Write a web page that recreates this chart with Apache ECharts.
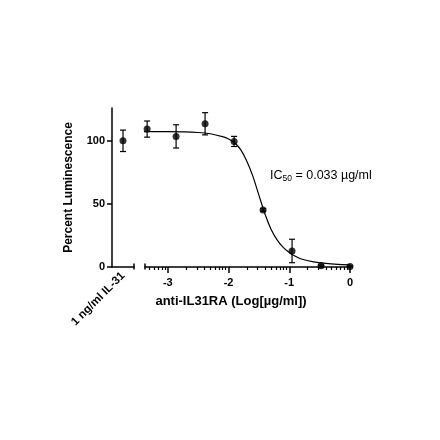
<!DOCTYPE html>
<html>
<head>
<meta charset="utf-8">
<script src="https://cdn.jsdelivr.net/npm/echarts@6/dist/echarts.min.js"></script>
<style>html,body{margin:0;padding:0;background:#fff}#c{width:440px;height:440px}</style>
</head>
<body>
<div id="c"></div>
<script>
// ---- data ----
const controlLabel = ['1 ng/ml IL-31'];
const controlMean = [100];
const controlSd = [8.5];

const concLog = [-3.340, -2.863, -2.386, -1.908, -1.431, -0.954, -0.477, 0];
const meanPct = [109.3, 103.5, 113.5, 99.5, 45.2, 12.7, 1.0, 0.4];
const sdPct = [6.4, 9.2, 8.8, 4.0, 1.0, 9.3, 0.6, 0.5];

// fitted curve
const curveLog = [-3.71, -3.0, -2.5, -2.3, -2.1, -2.0, -1.9, -1.8, -1.7, -1.6, -1.5, -1.4, -1.3, -1.2, -1.1, -1.0, -0.9, -0.8, -0.6, -0.4, -0.2, 0];
const curveVal = [107.3, 107.2, 106.6, 105.6, 103.3, 101.5, 98.5, 93, 84, 72, 57, 42, 30, 21.5, 15.5, 11.5, 8.5, 6.3, 4.0, 2.8, 2.1, 1.7];

const yTicks = [0, 50, 100];
const xMajor = [-3, -2, -1, 0];
const minorMult = [2, 3, 4, 5, 6, 7, 8, 9];
const xTitle = 'anti-IL31RA (Log[µg/ml])';
const yTitle = 'Percent Luminescence';

// ---- layout ----
const FONT = 'Liberation Sans, Arial, sans-serif';
const TOP = 108, BOTTOM = 173;
const G0_LEFT = 112, G0_RIGHT = 306;   // control segment: 112..134
const G1_LEFT = 145, G1_RIGHT = 90;    // main segment: 145..350
const AXIS_Y = 440 - BOTTOM;
const X_MIN = -3.375, X_MAX = 0, Y_MAX = 126;

const minorTicks = [];
for (let d = -4; d <= -1; d++) {
  minorMult.forEach(k => {
    const v = d + Math.log10(k);
    if (v > X_MIN && v < X_MAX) minorTicks.push(v);
  });
}

const mainPts = concLog.map((x, i) => [x, meanPct[i]]);
const mainErr = concLog.map((x, i) => [x, meanPct[i] - sdPct[i], meanPct[i] + sdPct[i]]);
const ctrlPts = controlMean.map((m, i) => [i, m]);
const ctrlErr = controlMean.map((m, i) => [i, m - controlSd[i], m + controlSd[i]]);
const curve = curveLog.map((x, i) => [x, curveVal[i]]);

function errRender(params, api) {
  const x = api.value(0);
  const lo = api.coord([x, api.value(1)]);
  const hi = api.coord([x, api.value(2)]);
  const w = 3;
  const st = { stroke: '#000', lineWidth: 1.2 };
  return {
    type: 'group',
    children: [
      { type: 'line', shape: { x1: lo[0], y1: lo[1], x2: hi[0], y2: hi[1] }, style: st },
      { type: 'line', shape: { x1: lo[0] - w, y1: lo[1], x2: lo[0] + w, y2: lo[1] }, style: st },
      { type: 'line', shape: { x1: hi[0] - w, y1: hi[1], x2: hi[0] + w, y2: hi[1] }, style: st }
    ]
  };
}

const axisLineStyle = { color: '#000', width: 1.5 };
const capStyle = { stroke: '#000', lineWidth: 1.5 };

const option = {
  backgroundColor: '#fff',
  animation: false,
  textStyle: { fontFamily: FONT },
  grid: [
    { left: G0_LEFT, right: G0_RIGHT, top: TOP, bottom: BOTTOM },
    { left: G1_LEFT, right: G1_RIGHT, top: TOP, bottom: BOTTOM }
  ],
  xAxis: [
    {
      gridIndex: 0, type: 'category', data: controlLabel, boundaryGap: true, position: 'bottom',
      axisLine: { lineStyle: axisLineStyle },
      axisTick: { alignWithLabel: true, length: 6, lineStyle: { color: '#000', width: 1.5 } },
      axisLabel: { rotate: 45, margin: 7, color: '#000', fontSize: 11.5, fontWeight: 'bold', fontFamily: FONT },
      splitLine: { show: false }
    },
    {
      gridIndex: 1, type: 'value', min: X_MIN, max: X_MAX, position: 'bottom',
      axisLine: { lineStyle: axisLineStyle },
      axisTick: { customValues: xMajor, length: 6, lineStyle: { color: '#000', width: 1.5 } },
      axisLabel: { customValues: xMajor, margin: 10, color: '#000', fontSize: 11, fontWeight: 'bold', fontFamily: FONT,
        formatter: v => String(Math.round(v)) },
      splitLine: { show: false }
    },
    {
      gridIndex: 1, type: 'value', min: X_MIN, max: X_MAX, position: 'bottom', offset: 0,
      axisLine: { show: false },
      axisTick: { customValues: minorTicks, length: 3, lineStyle: { color: '#000', width: 1.2 } },
      axisLabel: { show: false },
      splitLine: { show: false }
    }
  ],
  yAxis: [
    {
      gridIndex: 0, type: 'value', min: 0, max: Y_MAX,
      name: yTitle, nameLocation: 'middle', nameGap: 37,
      nameTextStyle: { color: '#000', fontSize: 12, fontWeight: 'bold', fontFamily: FONT },
      axisLine: { show: true, lineStyle: axisLineStyle },
      axisTick: { show: true, customValues: yTicks, length: 5, lineStyle: { color: '#000', width: 1.5 } },
      axisLabel: { customValues: yTicks, margin: 7, color: '#000', fontSize: 11, fontWeight: 'bold', fontFamily: FONT },
      splitLine: { show: false }
    },
    {
      gridIndex: 1, type: 'value', min: 0, max: Y_MAX, position: 'left',
      axisLine: { show: false }, axisTick: { show: false }, axisLabel: { show: false },
      splitLine: { show: false }
    }
  ],
  series: [
    {
      type: 'line', xAxisIndex: 1, yAxisIndex: 1, data: curve, smooth: 0.3,
      showSymbol: false, clip: false, lineStyle: { color: '#000', width: 1.2 }, z: 2
    },
    {
      type: 'custom', xAxisIndex: 1, yAxisIndex: 1, data: mainErr, renderItem: errRender, clip: false, z: 3
    },
    {
      type: 'scatter', xAxisIndex: 1, yAxisIndex: 1, data: mainPts, symbol: 'circle', symbolSize: 7,
      itemStyle: { color: '#000' }, clip: false, z: 4
    },
    {
      type: 'custom', xAxisIndex: 0, yAxisIndex: 0, data: ctrlErr, renderItem: errRender, clip: false, z: 3
    },
    {
      type: 'scatter', xAxisIndex: 0, yAxisIndex: 0, data: ctrlPts, symbol: 'circle', symbolSize: 7,
      itemStyle: { color: '#000' }, clip: false, z: 4
    }
  ],
  graphic: [
    // axis-break caps
    { type: 'line', shape: { x1: 440 - G0_RIGHT, y1: AXIS_Y - 3.5, x2: 440 - G0_RIGHT, y2: AXIS_Y + 2.5 }, style: capStyle },
    { type: 'line', shape: { x1: G1_LEFT, y1: AXIS_Y - 3.5, x2: G1_LEFT, y2: AXIS_Y + 2.5 }, style: capStyle },
    {
      type: 'text', left: 270, top: 169,
      style: {
        text: '{a|IC}{s|50}{a| = 0.033 µg/ml}',
        rich: {
          a: { fontSize: 12.5, fontFamily: FONT, fill: '#000', lineHeight: 14, verticalAlign: 'middle' },
          s: { fontSize: 8.5, fontFamily: FONT, fill: '#000', lineHeight: 14, verticalAlign: 'bottom', padding: [5, 0, 0, 0] }
        }
      }
    },
    {
      type: 'text', x: 231, y: 301,
      style: { text: xTitle, fontSize: 13, fontWeight: 'bold', fontFamily: FONT, fill: '#000',
        textAlign: 'center', textVerticalAlign: 'middle' }
    }
  ]
};

const chart = echarts.init(document.getElementById('c'), null, { renderer: 'canvas' });
chart.setOption(option);
</script>
</body>
</html>
